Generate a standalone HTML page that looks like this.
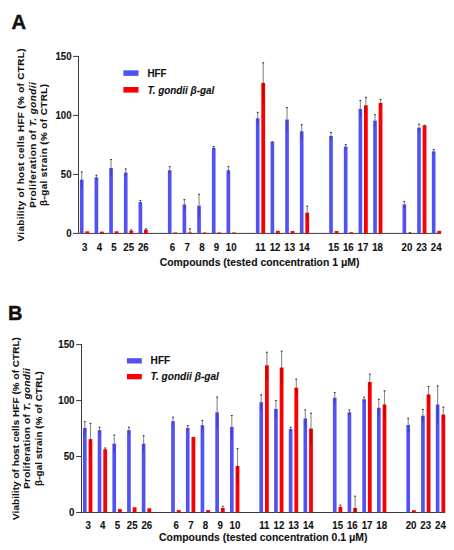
<!DOCTYPE html>
<html><head><meta charset="utf-8"><style>
html,body{margin:0;padding:0;background:#fff;}
svg{display:block;}
text{font-family:"Liberation Sans", sans-serif;fill:#111;stroke:#111;stroke-width:0.1;}
</style></head><body>
<svg width="454" height="550" viewBox="0 0 454 550">
<rect width="454" height="550" fill="#fff"/>
<text x="11.6" y="29.3" font-size="20.2" font-weight="bold" style="stroke-width:0.4">A</text>
<text transform="translate(23.9,145) rotate(-90)" text-anchor="middle" font-size="9.9" font-weight="bold" textLength="192.9" lengthAdjust="spacing">Viability of host cells HFF (% of CTRL)</text>
<text transform="translate(35.6,145) rotate(-90)" text-anchor="middle" font-size="9.9" font-weight="bold" textLength="125.6" lengthAdjust="spacing">Proliferation of <tspan font-style="italic">T. gondii</tspan></text>
<text transform="translate(46.9,145) rotate(-90)" text-anchor="middle" font-size="9.9" font-weight="bold" textLength="121.9" lengthAdjust="spacing">β-gal strain (% of CTRL)</text>
<path d="M78.5 55.900000000000006 V233.4 M73 233.4 H441.1" stroke="#3a3a3a" stroke-width="1" fill="none"/>
<path d="M73 174.40 H78.5" stroke="#3a3a3a" stroke-width="1"/>
<path d="M73 115.40 H78.5" stroke="#3a3a3a" stroke-width="1"/>
<path d="M73 56.40 H78.5" stroke="#3a3a3a" stroke-width="1"/>
<text transform="translate(71.5,237.35) scale(1,1.05)" font-size="9.6" font-weight="bold" text-anchor="end">0</text>
<text transform="translate(71.5,178.35) scale(1,1.05)" font-size="9.6" font-weight="bold" text-anchor="end">50</text>
<text transform="translate(71.5,119.35) scale(1,1.05)" font-size="9.6" font-weight="bold" text-anchor="end">100</text>
<text transform="translate(71.5,60.35) scale(1,1.05)" font-size="9.6" font-weight="bold" text-anchor="end">150</text>
<rect x="79.90" y="179.65" width="3.65" height="53.75" fill="#5252F2"/>
<path d="M81.73 171.45 V179.65" stroke="#8a8a8a" stroke-width="1.1"/>
<path d="M81.73 179.65 V187.85" stroke="#000" stroke-opacity="0.28" stroke-width="1.0"/>
<path d="M80.83 171.95 H82.63" stroke="#333" stroke-width="1"/>
<rect x="85.35" y="231.28" width="3.8" height="2.12" fill="#FA0000"/>
<text transform="translate(84.71,251.0) scale(1,1.18)" font-size="9.7" font-weight="bold" text-anchor="middle">3</text>
<rect x="94.56" y="177.29" width="3.65" height="56.11" fill="#5252F2"/>
<path d="M96.39 174.75 V177.29" stroke="#8a8a8a" stroke-width="1.1"/>
<path d="M96.39 177.29 V179.83" stroke="#000" stroke-opacity="0.28" stroke-width="1.0"/>
<path d="M95.49 175.25 H97.29" stroke="#333" stroke-width="1"/>
<rect x="100.02" y="231.63" width="3.8" height="1.77" fill="#FA0000"/>
<text transform="translate(99.35,251.0) scale(1,1.18)" font-size="9.7" font-weight="bold" text-anchor="middle">4</text>
<rect x="109.23" y="167.85" width="3.65" height="65.55" fill="#5252F2"/>
<path d="M111.06 159.06 V167.85" stroke="#8a8a8a" stroke-width="1.1"/>
<path d="M111.06 167.85 V176.64" stroke="#000" stroke-opacity="0.28" stroke-width="1.0"/>
<path d="M110.16 159.56 H111.96" stroke="#333" stroke-width="1"/>
<rect x="114.68" y="231.28" width="3.8" height="2.12" fill="#FA0000"/>
<text transform="translate(114.00,251.0) scale(1,1.18)" font-size="9.7" font-weight="bold" text-anchor="middle">5</text>
<rect x="123.90" y="172.57" width="3.65" height="60.83" fill="#5252F2"/>
<path d="M125.72 168.50 V172.57" stroke="#8a8a8a" stroke-width="1.1"/>
<path d="M125.72 172.57 V176.64" stroke="#000" stroke-opacity="0.28" stroke-width="1.0"/>
<path d="M124.82 169.00 H126.62" stroke="#333" stroke-width="1"/>
<rect x="129.34" y="230.69" width="3.8" height="2.71" fill="#FA0000"/>
<path d="M131.25 229.39 V230.69" stroke="#8a8a8a" stroke-width="1.1"/>
<path d="M131.25 230.69 V231.98" stroke="#000" stroke-opacity="0.28" stroke-width="1.0"/>
<path d="M130.34 229.89 H132.15" stroke="#333" stroke-width="1"/>
<text transform="translate(128.64,251.0) scale(1,1.18)" font-size="9.7" font-weight="bold" text-anchor="middle">25</text>
<rect x="138.56" y="202.07" width="3.65" height="31.33" fill="#5252F2"/>
<path d="M140.38 200.01 V202.07" stroke="#8a8a8a" stroke-width="1.1"/>
<path d="M140.38 202.07 V204.14" stroke="#000" stroke-opacity="0.28" stroke-width="1.0"/>
<path d="M139.48 200.51 H141.28" stroke="#333" stroke-width="1"/>
<rect x="144.01" y="229.62" width="3.8" height="3.78" fill="#FA0000"/>
<path d="M145.91 228.33 V229.62" stroke="#8a8a8a" stroke-width="1.1"/>
<path d="M145.91 229.62 V230.92" stroke="#000" stroke-opacity="0.28" stroke-width="1.0"/>
<path d="M145.01 228.83 H146.81" stroke="#333" stroke-width="1"/>
<text transform="translate(143.29,251.0) scale(1,1.18)" font-size="9.7" font-weight="bold" text-anchor="middle">26</text>
<rect x="167.89" y="170.21" width="3.65" height="63.19" fill="#5252F2"/>
<path d="M169.71 166.14 V170.21" stroke="#8a8a8a" stroke-width="1.1"/>
<path d="M169.71 170.21 V174.28" stroke="#000" stroke-opacity="0.28" stroke-width="1.0"/>
<path d="M168.81 166.64 H170.61" stroke="#333" stroke-width="1"/>
<rect x="173.34" y="232.46" width="3.8" height="0.94" fill="#FA0000"/>
<text transform="translate(172.57,251.0) scale(1,1.18)" font-size="9.7" font-weight="bold" text-anchor="middle">6</text>
<rect x="182.56" y="204.43" width="3.65" height="28.97" fill="#5252F2"/>
<path d="M184.38 199.18 V204.43" stroke="#8a8a8a" stroke-width="1.1"/>
<path d="M184.38 204.43 V209.68" stroke="#000" stroke-opacity="0.28" stroke-width="1.0"/>
<path d="M183.48 199.68 H185.28" stroke="#333" stroke-width="1"/>
<rect x="188.00" y="232.46" width="3.8" height="0.94" fill="#FA0000"/>
<path d="M189.91 228.33 V232.46" stroke="#8a8a8a" stroke-width="1.1"/>
<path d="M189.91 232.46 V233.40" stroke="#000" stroke-opacity="0.28" stroke-width="1.0"/>
<path d="M189.00 228.83 H190.81" stroke="#333" stroke-width="1"/>
<text transform="translate(187.22,251.0) scale(1,1.18)" font-size="9.7" font-weight="bold" text-anchor="middle">7</text>
<rect x="197.22" y="205.61" width="3.65" height="27.79" fill="#5252F2"/>
<path d="M199.04 193.87 V205.61" stroke="#8a8a8a" stroke-width="1.1"/>
<path d="M199.04 205.61 V217.35" stroke="#000" stroke-opacity="0.28" stroke-width="1.0"/>
<path d="M198.14 194.37 H199.94" stroke="#333" stroke-width="1"/>
<rect x="202.67" y="232.46" width="3.8" height="0.94" fill="#FA0000"/>
<text transform="translate(201.86,251.0) scale(1,1.18)" font-size="9.7" font-weight="bold" text-anchor="middle">8</text>
<rect x="211.88" y="147.79" width="3.65" height="85.61" fill="#5252F2"/>
<path d="M213.71 146.08 V147.79" stroke="#8a8a8a" stroke-width="1.1"/>
<path d="M213.71 147.79 V149.50" stroke="#000" stroke-opacity="0.28" stroke-width="1.0"/>
<path d="M212.81 146.58 H214.61" stroke="#333" stroke-width="1"/>
<rect x="217.33" y="232.46" width="3.8" height="0.94" fill="#FA0000"/>
<text transform="translate(216.51,251.0) scale(1,1.18)" font-size="9.7" font-weight="bold" text-anchor="middle">9</text>
<rect x="226.55" y="170.21" width="3.65" height="63.19" fill="#5252F2"/>
<path d="M228.37 166.14 V170.21" stroke="#8a8a8a" stroke-width="1.1"/>
<path d="M228.37 170.21 V174.28" stroke="#000" stroke-opacity="0.28" stroke-width="1.0"/>
<path d="M227.47 166.64 H229.27" stroke="#333" stroke-width="1"/>
<rect x="232.00" y="232.46" width="3.8" height="0.94" fill="#FA0000"/>
<text transform="translate(231.15,251.0) scale(1,1.18)" font-size="9.7" font-weight="bold" text-anchor="middle">10</text>
<rect x="255.88" y="118.29" width="3.65" height="115.11" fill="#5252F2"/>
<path d="M257.70 111.86 V118.29" stroke="#8a8a8a" stroke-width="1.1"/>
<path d="M257.70 118.29 V124.72" stroke="#000" stroke-opacity="0.28" stroke-width="1.0"/>
<path d="M256.81 112.36 H258.60" stroke="#333" stroke-width="1"/>
<rect x="261.33" y="82.89" width="3.8" height="150.51" fill="#FA0000"/>
<path d="M263.23 62.30 V82.89" stroke="#8a8a8a" stroke-width="1.1"/>
<path d="M263.23 82.89 V103.48" stroke="#000" stroke-opacity="0.28" stroke-width="1.0"/>
<path d="M262.33 62.80 H264.13" stroke="#333" stroke-width="1"/>
<text transform="translate(260.44,251.0) scale(1,1.18)" font-size="9.7" font-weight="bold" text-anchor="middle">11</text>
<rect x="270.54" y="141.89" width="3.65" height="91.51" fill="#5252F2"/>
<path d="M272.37 141.36 V141.89" stroke="#8a8a8a" stroke-width="1.1"/>
<path d="M272.37 141.89 V142.42" stroke="#000" stroke-opacity="0.28" stroke-width="1.0"/>
<path d="M271.47 141.86 H273.27" stroke="#333" stroke-width="1"/>
<rect x="275.99" y="230.80" width="3.8" height="2.60" fill="#FA0000"/>
<text transform="translate(275.08,251.0) scale(1,1.18)" font-size="9.7" font-weight="bold" text-anchor="middle">12</text>
<rect x="285.21" y="119.47" width="3.65" height="113.93" fill="#5252F2"/>
<path d="M287.04 107.14 V119.47" stroke="#8a8a8a" stroke-width="1.1"/>
<path d="M287.04 119.47 V131.80" stroke="#000" stroke-opacity="0.28" stroke-width="1.0"/>
<path d="M286.14 107.64 H287.94" stroke="#333" stroke-width="1"/>
<rect x="290.66" y="231.04" width="3.8" height="2.36" fill="#FA0000"/>
<text transform="translate(289.73,251.0) scale(1,1.18)" font-size="9.7" font-weight="bold" text-anchor="middle">13</text>
<rect x="299.88" y="131.27" width="3.65" height="102.13" fill="#5252F2"/>
<path d="M301.70 124.25 V131.27" stroke="#8a8a8a" stroke-width="1.1"/>
<path d="M301.70 131.27 V138.29" stroke="#000" stroke-opacity="0.28" stroke-width="1.0"/>
<path d="M300.80 124.75 H302.60" stroke="#333" stroke-width="1"/>
<rect x="305.32" y="212.69" width="3.8" height="20.71" fill="#FA0000"/>
<path d="M307.22 205.67 V212.69" stroke="#8a8a8a" stroke-width="1.1"/>
<path d="M307.22 212.69 V219.71" stroke="#000" stroke-opacity="0.28" stroke-width="1.0"/>
<path d="M306.32 206.17 H308.12" stroke="#333" stroke-width="1"/>
<text transform="translate(304.37,251.0) scale(1,1.18)" font-size="9.7" font-weight="bold" text-anchor="middle">14</text>
<rect x="329.20" y="135.99" width="3.65" height="97.41" fill="#5252F2"/>
<path d="M331.03 131.92 V135.99" stroke="#8a8a8a" stroke-width="1.1"/>
<path d="M331.03 135.99 V140.06" stroke="#000" stroke-opacity="0.28" stroke-width="1.0"/>
<path d="M330.13 132.42 H331.93" stroke="#333" stroke-width="1"/>
<rect x="334.65" y="231.04" width="3.8" height="2.36" fill="#FA0000"/>
<text transform="translate(333.66,251.0) scale(1,1.18)" font-size="9.7" font-weight="bold" text-anchor="middle">15</text>
<rect x="343.87" y="146.61" width="3.65" height="86.79" fill="#5252F2"/>
<path d="M345.69 144.07 V146.61" stroke="#8a8a8a" stroke-width="1.1"/>
<path d="M345.69 146.61 V149.15" stroke="#000" stroke-opacity="0.28" stroke-width="1.0"/>
<path d="M344.80 144.57 H346.59" stroke="#333" stroke-width="1"/>
<rect x="349.32" y="232.22" width="3.8" height="1.18" fill="#FA0000"/>
<text transform="translate(348.30,251.0) scale(1,1.18)" font-size="9.7" font-weight="bold" text-anchor="middle">16</text>
<rect x="358.53" y="108.85" width="3.65" height="124.55" fill="#5252F2"/>
<path d="M360.36 100.06 V108.85" stroke="#8a8a8a" stroke-width="1.1"/>
<path d="M360.36 108.85 V117.64" stroke="#000" stroke-opacity="0.28" stroke-width="1.0"/>
<path d="M359.46 100.56 H361.26" stroke="#333" stroke-width="1"/>
<rect x="363.98" y="105.31" width="3.8" height="128.09" fill="#FA0000"/>
<path d="M365.88 96.87 V105.31" stroke="#8a8a8a" stroke-width="1.1"/>
<path d="M365.88 105.31 V113.75" stroke="#000" stroke-opacity="0.28" stroke-width="1.0"/>
<path d="M364.98 97.37 H366.78" stroke="#333" stroke-width="1"/>
<text transform="translate(362.95,251.0) scale(1,1.18)" font-size="9.7" font-weight="bold" text-anchor="middle">17</text>
<rect x="373.20" y="120.65" width="3.65" height="112.75" fill="#5252F2"/>
<path d="M375.02 114.22 V120.65" stroke="#8a8a8a" stroke-width="1.1"/>
<path d="M375.02 120.65 V127.08" stroke="#000" stroke-opacity="0.28" stroke-width="1.0"/>
<path d="M374.12 114.72 H375.92" stroke="#333" stroke-width="1"/>
<rect x="378.65" y="102.95" width="3.8" height="130.45" fill="#FA0000"/>
<path d="M380.55 98.88 V102.95" stroke="#8a8a8a" stroke-width="1.1"/>
<path d="M380.55 102.95 V107.02" stroke="#000" stroke-opacity="0.28" stroke-width="1.0"/>
<path d="M379.65 99.38 H381.45" stroke="#333" stroke-width="1"/>
<text transform="translate(377.59,251.0) scale(1,1.18)" font-size="9.7" font-weight="bold" text-anchor="middle">18</text>
<rect x="402.53" y="204.43" width="3.65" height="28.97" fill="#5252F2"/>
<path d="M404.35 200.95 V204.43" stroke="#8a8a8a" stroke-width="1.1"/>
<path d="M404.35 204.43 V207.91" stroke="#000" stroke-opacity="0.28" stroke-width="1.0"/>
<path d="M403.45 201.45 H405.25" stroke="#333" stroke-width="1"/>
<rect x="407.98" y="232.81" width="3.8" height="0.59" fill="#FA0000"/>
<path d="M409.88 232.22 V232.81" stroke="#8a8a8a" stroke-width="1.1"/>
<path d="M409.88 232.81 V233.40" stroke="#000" stroke-opacity="0.28" stroke-width="1.0"/>
<path d="M408.98 232.72 H410.78" stroke="#333" stroke-width="1"/>
<text transform="translate(406.88,251.0) scale(1,1.18)" font-size="9.7" font-weight="bold" text-anchor="middle">20</text>
<rect x="417.19" y="127.73" width="3.65" height="105.67" fill="#5252F2"/>
<path d="M419.02 123.66 V127.73" stroke="#8a8a8a" stroke-width="1.1"/>
<path d="M419.02 127.73 V131.80" stroke="#000" stroke-opacity="0.28" stroke-width="1.0"/>
<path d="M418.12 124.16 H419.92" stroke="#333" stroke-width="1"/>
<rect x="422.64" y="125.37" width="3.8" height="108.03" fill="#FA0000"/>
<path d="M424.54 124.84 V125.37" stroke="#8a8a8a" stroke-width="1.1"/>
<path d="M424.54 125.37 V125.90" stroke="#000" stroke-opacity="0.28" stroke-width="1.0"/>
<path d="M423.64 125.34 H425.44" stroke="#333" stroke-width="1"/>
<text transform="translate(421.52,251.0) scale(1,1.18)" font-size="9.7" font-weight="bold" text-anchor="middle">23</text>
<rect x="431.86" y="151.33" width="3.65" height="82.07" fill="#5252F2"/>
<path d="M433.69 149.03 V151.33" stroke="#8a8a8a" stroke-width="1.1"/>
<path d="M433.69 151.33 V153.63" stroke="#000" stroke-opacity="0.28" stroke-width="1.0"/>
<path d="M432.79 149.53 H434.58" stroke="#333" stroke-width="1"/>
<rect x="437.31" y="230.80" width="3.8" height="2.60" fill="#FA0000"/>
<text transform="translate(436.17,251.0) scale(1,1.18)" font-size="9.7" font-weight="bold" text-anchor="middle">24</text>
<text x="159.7" y="265.9" font-size="10.42" font-weight="bold" textLength="199.7" lengthAdjust="spacing">Compounds (tested concentration 1 μM)</text>
<rect x="123.4" y="70.3" width="15.1" height="5.6" fill="#5252F2"/>
<rect x="123.4" y="87.0" width="15.1" height="5.6" fill="#FA0000"/>
<text transform="translate(147.4,76.5) scale(1,1.03)" font-size="9.9" font-weight="bold">HFF</text>
<text transform="translate(147.4,93.7) scale(1,1.03)" font-size="9.9" font-weight="bold" font-style="italic">T. gondii β-gal</text>
<text x="7.9" y="319.7" font-size="20" font-weight="bold" style="stroke-width:0.4">B</text>
<text transform="translate(18.9,428.5) rotate(-90)" text-anchor="middle" font-size="9.9" font-weight="bold" textLength="182.8" lengthAdjust="spacing">Viability of host cells HFF (% of CTRL)</text>
<text transform="translate(30.3,428.5) rotate(-90)" text-anchor="middle" font-size="9.9" font-weight="bold" textLength="120.7" lengthAdjust="spacing">Proliferation of <tspan font-style="italic">T. gondii</tspan></text>
<text transform="translate(42.2,428.5) rotate(-90)" text-anchor="middle" font-size="9.9" font-weight="bold" textLength="114.8" lengthAdjust="spacing">β-gal strain (% of CTRL)</text>
<path d="M81.5 344.105 V512.5 M76.2 512.5 H445.1" stroke="#3a3a3a" stroke-width="1" fill="none"/>
<path d="M76.2 456.54 H81.5" stroke="#3a3a3a" stroke-width="1"/>
<path d="M76.2 400.57 H81.5" stroke="#3a3a3a" stroke-width="1"/>
<path d="M76.2 344.61 H81.5" stroke="#3a3a3a" stroke-width="1"/>
<text transform="translate(74.5,516.10) scale(1,1.05)" font-size="9.7" font-weight="bold" text-anchor="end">0</text>
<text transform="translate(74.5,460.14) scale(1,1.05)" font-size="9.7" font-weight="bold" text-anchor="end">50</text>
<text transform="translate(74.5,404.17) scale(1,1.05)" font-size="9.7" font-weight="bold" text-anchor="end">100</text>
<text transform="translate(74.5,348.21) scale(1,1.05)" font-size="9.7" font-weight="bold" text-anchor="end">150</text>
<rect x="83.00" y="427.94" width="3.65" height="84.56" fill="#5252F2"/>
<path d="M84.83 421.22 V427.94" stroke="#8a8a8a" stroke-width="1.1"/>
<path d="M84.83 427.94 V434.65" stroke="#000" stroke-opacity="0.28" stroke-width="1.0"/>
<path d="M83.92 421.72 H85.73" stroke="#333" stroke-width="1"/>
<rect x="88.60" y="439.13" width="3.8" height="73.37" fill="#FA0000"/>
<path d="M90.50 422.90 V439.13" stroke="#8a8a8a" stroke-width="1.1"/>
<path d="M90.50 439.13 V455.36" stroke="#000" stroke-opacity="0.28" stroke-width="1.0"/>
<path d="M89.60 423.40 H91.40" stroke="#333" stroke-width="1"/>
<text transform="translate(88.10,528.9) scale(1,1.12)" font-size="9.7" font-weight="bold" text-anchor="middle">3</text>
<rect x="97.70" y="430.18" width="3.65" height="82.32" fill="#5252F2"/>
<path d="M99.53 426.82 V430.18" stroke="#8a8a8a" stroke-width="1.1"/>
<path d="M99.53 430.18 V433.53" stroke="#000" stroke-opacity="0.28" stroke-width="1.0"/>
<path d="M98.62 427.32 H100.43" stroke="#333" stroke-width="1"/>
<rect x="103.30" y="449.20" width="3.8" height="63.30" fill="#FA0000"/>
<path d="M105.20 447.52 V449.20" stroke="#8a8a8a" stroke-width="1.1"/>
<path d="M105.20 449.20 V450.88" stroke="#000" stroke-opacity="0.28" stroke-width="1.0"/>
<path d="M104.30 448.02 H106.10" stroke="#333" stroke-width="1"/>
<text transform="translate(102.78,528.9) scale(1,1.12)" font-size="9.7" font-weight="bold" text-anchor="middle">4</text>
<rect x="112.40" y="443.61" width="3.65" height="68.89" fill="#5252F2"/>
<path d="M114.23 434.65 V443.61" stroke="#8a8a8a" stroke-width="1.1"/>
<path d="M114.23 443.61 V452.56" stroke="#000" stroke-opacity="0.28" stroke-width="1.0"/>
<path d="M113.33 435.15 H115.13" stroke="#333" stroke-width="1"/>
<rect x="118.00" y="509.03" width="3.8" height="3.47" fill="#FA0000"/>
<text transform="translate(117.46,528.9) scale(1,1.12)" font-size="9.7" font-weight="bold" text-anchor="middle">5</text>
<rect x="127.10" y="430.18" width="3.65" height="82.32" fill="#5252F2"/>
<path d="M128.92 426.82 V430.18" stroke="#8a8a8a" stroke-width="1.1"/>
<path d="M128.92 430.18 V433.53" stroke="#000" stroke-opacity="0.28" stroke-width="1.0"/>
<path d="M128.02 427.32 H129.82" stroke="#333" stroke-width="1"/>
<rect x="132.70" y="507.24" width="3.8" height="5.26" fill="#FA0000"/>
<text transform="translate(132.14,528.9) scale(1,1.12)" font-size="9.7" font-weight="bold" text-anchor="middle">25</text>
<rect x="141.80" y="443.61" width="3.65" height="68.89" fill="#5252F2"/>
<path d="M143.62 435.21 V443.61" stroke="#8a8a8a" stroke-width="1.1"/>
<path d="M143.62 443.61 V452.00" stroke="#000" stroke-opacity="0.28" stroke-width="1.0"/>
<path d="M142.72 435.71 H144.53" stroke="#333" stroke-width="1"/>
<rect x="147.40" y="508.25" width="3.8" height="4.25" fill="#FA0000"/>
<text transform="translate(146.82,528.9) scale(1,1.12)" font-size="9.7" font-weight="bold" text-anchor="middle">26</text>
<rect x="171.20" y="421.22" width="3.65" height="91.28" fill="#5252F2"/>
<path d="M173.02 416.74 V421.22" stroke="#8a8a8a" stroke-width="1.1"/>
<path d="M173.02 421.22 V425.70" stroke="#000" stroke-opacity="0.28" stroke-width="1.0"/>
<path d="M172.12 417.24 H173.92" stroke="#333" stroke-width="1"/>
<rect x="176.80" y="510.04" width="3.8" height="2.46" fill="#FA0000"/>
<text transform="translate(176.18,528.9) scale(1,1.12)" font-size="9.7" font-weight="bold" text-anchor="middle">6</text>
<rect x="185.90" y="427.94" width="3.65" height="84.56" fill="#5252F2"/>
<path d="M187.72 425.14 V427.94" stroke="#8a8a8a" stroke-width="1.1"/>
<path d="M187.72 427.94 V430.74" stroke="#000" stroke-opacity="0.28" stroke-width="1.0"/>
<path d="M186.82 425.64 H188.62" stroke="#333" stroke-width="1"/>
<rect x="191.50" y="436.89" width="3.8" height="75.61" fill="#FA0000"/>
<text transform="translate(190.86,528.9) scale(1,1.12)" font-size="9.7" font-weight="bold" text-anchor="middle">7</text>
<rect x="200.60" y="425.14" width="3.65" height="87.36" fill="#5252F2"/>
<path d="M202.42 419.88 V425.14" stroke="#8a8a8a" stroke-width="1.1"/>
<path d="M202.42 425.14 V430.40" stroke="#000" stroke-opacity="0.28" stroke-width="1.0"/>
<path d="M201.52 420.38 H203.32" stroke="#333" stroke-width="1"/>
<rect x="206.20" y="510.04" width="3.8" height="2.46" fill="#FA0000"/>
<text transform="translate(205.54,528.9) scale(1,1.12)" font-size="9.7" font-weight="bold" text-anchor="middle">8</text>
<rect x="215.30" y="412.27" width="3.65" height="100.23" fill="#5252F2"/>
<path d="M217.12 396.60 V412.27" stroke="#8a8a8a" stroke-width="1.1"/>
<path d="M217.12 412.27 V427.94" stroke="#000" stroke-opacity="0.28" stroke-width="1.0"/>
<path d="M216.22 397.10 H218.02" stroke="#333" stroke-width="1"/>
<rect x="220.90" y="508.02" width="3.8" height="4.48" fill="#FA0000"/>
<path d="M222.80 505.78 V508.02" stroke="#8a8a8a" stroke-width="1.1"/>
<path d="M222.80 508.02 V510.26" stroke="#000" stroke-opacity="0.28" stroke-width="1.0"/>
<path d="M221.90 506.28 H223.70" stroke="#333" stroke-width="1"/>
<text transform="translate(220.22,528.9) scale(1,1.12)" font-size="9.7" font-weight="bold" text-anchor="middle">9</text>
<rect x="230.00" y="426.82" width="3.65" height="85.68" fill="#5252F2"/>
<path d="M231.82 415.06 V426.82" stroke="#8a8a8a" stroke-width="1.1"/>
<path d="M231.82 426.82 V438.57" stroke="#000" stroke-opacity="0.28" stroke-width="1.0"/>
<path d="M230.92 415.56 H232.72" stroke="#333" stroke-width="1"/>
<rect x="235.60" y="465.99" width="3.8" height="46.51" fill="#FA0000"/>
<path d="M237.50 448.08 V465.99" stroke="#8a8a8a" stroke-width="1.1"/>
<path d="M237.50 465.99 V483.90" stroke="#000" stroke-opacity="0.28" stroke-width="1.0"/>
<path d="M236.60 448.58 H238.40" stroke="#333" stroke-width="1"/>
<text transform="translate(234.90,528.9) scale(1,1.12)" font-size="9.7" font-weight="bold" text-anchor="middle">10</text>
<rect x="259.40" y="402.19" width="3.65" height="110.31" fill="#5252F2"/>
<path d="M261.22 394.36 V402.19" stroke="#8a8a8a" stroke-width="1.1"/>
<path d="M261.22 402.19 V410.03" stroke="#000" stroke-opacity="0.28" stroke-width="1.0"/>
<path d="M260.32 394.86 H262.12" stroke="#333" stroke-width="1"/>
<rect x="265.00" y="365.26" width="3.8" height="147.24" fill="#FA0000"/>
<path d="M266.90 351.82 V365.26" stroke="#8a8a8a" stroke-width="1.1"/>
<path d="M266.90 365.26 V378.69" stroke="#000" stroke-opacity="0.28" stroke-width="1.0"/>
<path d="M266.00 352.32 H267.80" stroke="#333" stroke-width="1"/>
<text transform="translate(264.26,528.9) scale(1,1.12)" font-size="9.7" font-weight="bold" text-anchor="middle">11</text>
<rect x="274.10" y="408.91" width="3.65" height="103.59" fill="#5252F2"/>
<path d="M275.93 399.95 V408.91" stroke="#8a8a8a" stroke-width="1.1"/>
<path d="M275.93 408.91 V417.86" stroke="#000" stroke-opacity="0.28" stroke-width="1.0"/>
<path d="M275.03 400.45 H276.82" stroke="#333" stroke-width="1"/>
<rect x="279.70" y="367.49" width="3.8" height="145.01" fill="#FA0000"/>
<path d="M281.60 350.71 V367.49" stroke="#8a8a8a" stroke-width="1.1"/>
<path d="M281.60 367.49 V384.28" stroke="#000" stroke-opacity="0.28" stroke-width="1.0"/>
<path d="M280.70 351.21 H282.50" stroke="#333" stroke-width="1"/>
<text transform="translate(278.94,528.9) scale(1,1.12)" font-size="9.7" font-weight="bold" text-anchor="middle">12</text>
<rect x="288.80" y="429.06" width="3.65" height="83.44" fill="#5252F2"/>
<path d="M290.62 426.82 V429.06" stroke="#8a8a8a" stroke-width="1.1"/>
<path d="M290.62 429.06 V431.29" stroke="#000" stroke-opacity="0.28" stroke-width="1.0"/>
<path d="M289.72 427.32 H291.52" stroke="#333" stroke-width="1"/>
<rect x="294.40" y="387.64" width="3.8" height="124.86" fill="#FA0000"/>
<path d="M296.30 378.69 V387.64" stroke="#8a8a8a" stroke-width="1.1"/>
<path d="M296.30 387.64 V396.60" stroke="#000" stroke-opacity="0.28" stroke-width="1.0"/>
<path d="M295.40 379.19 H297.20" stroke="#333" stroke-width="1"/>
<text transform="translate(293.62,528.9) scale(1,1.12)" font-size="9.7" font-weight="bold" text-anchor="middle">13</text>
<rect x="303.50" y="418.42" width="3.65" height="94.08" fill="#5252F2"/>
<path d="M305.32 409.47 V418.42" stroke="#8a8a8a" stroke-width="1.1"/>
<path d="M305.32 418.42 V427.38" stroke="#000" stroke-opacity="0.28" stroke-width="1.0"/>
<path d="M304.43 409.97 H306.22" stroke="#333" stroke-width="1"/>
<rect x="309.10" y="428.50" width="3.8" height="84.00" fill="#FA0000"/>
<path d="M311.00 412.83 V428.50" stroke="#8a8a8a" stroke-width="1.1"/>
<path d="M311.00 428.50 V444.17" stroke="#000" stroke-opacity="0.28" stroke-width="1.0"/>
<path d="M310.10 413.33 H311.90" stroke="#333" stroke-width="1"/>
<text transform="translate(308.30,528.9) scale(1,1.12)" font-size="9.7" font-weight="bold" text-anchor="middle">14</text>
<rect x="332.90" y="397.72" width="3.65" height="114.78" fill="#5252F2"/>
<path d="M334.72 392.12 V397.72" stroke="#8a8a8a" stroke-width="1.1"/>
<path d="M334.72 397.72 V403.31" stroke="#000" stroke-opacity="0.28" stroke-width="1.0"/>
<path d="M333.82 392.62 H335.62" stroke="#333" stroke-width="1"/>
<rect x="338.50" y="506.90" width="3.8" height="5.60" fill="#FA0000"/>
<path d="M340.40 504.66 V506.90" stroke="#8a8a8a" stroke-width="1.1"/>
<path d="M340.40 506.90 V509.14" stroke="#000" stroke-opacity="0.28" stroke-width="1.0"/>
<path d="M339.50 505.16 H341.30" stroke="#333" stroke-width="1"/>
<text transform="translate(337.66,528.9) scale(1,1.12)" font-size="9.7" font-weight="bold" text-anchor="middle">15</text>
<rect x="347.60" y="412.27" width="3.65" height="100.23" fill="#5252F2"/>
<path d="M349.42 409.47 V412.27" stroke="#8a8a8a" stroke-width="1.1"/>
<path d="M349.42 412.27 V415.06" stroke="#000" stroke-opacity="0.28" stroke-width="1.0"/>
<path d="M348.52 409.97 H350.32" stroke="#333" stroke-width="1"/>
<rect x="353.20" y="508.02" width="3.8" height="4.48" fill="#FA0000"/>
<path d="M355.10 495.71 V508.02" stroke="#8a8a8a" stroke-width="1.1"/>
<path d="M355.10 508.02 V512.50" stroke="#000" stroke-opacity="0.28" stroke-width="1.0"/>
<path d="M354.20 496.21 H356.00" stroke="#333" stroke-width="1"/>
<text transform="translate(352.34,528.9) scale(1,1.12)" font-size="9.7" font-weight="bold" text-anchor="middle">16</text>
<rect x="362.30" y="399.28" width="3.65" height="113.22" fill="#5252F2"/>
<path d="M364.12 396.71 V399.28" stroke="#8a8a8a" stroke-width="1.1"/>
<path d="M364.12 399.28 V401.86" stroke="#000" stroke-opacity="0.28" stroke-width="1.0"/>
<path d="M363.23 397.21 H365.02" stroke="#333" stroke-width="1"/>
<rect x="367.90" y="382.05" width="3.8" height="130.45" fill="#FA0000"/>
<path d="M369.80 373.65 V382.05" stroke="#8a8a8a" stroke-width="1.1"/>
<path d="M369.80 382.05 V390.44" stroke="#000" stroke-opacity="0.28" stroke-width="1.0"/>
<path d="M368.90 374.15 H370.70" stroke="#333" stroke-width="1"/>
<text transform="translate(367.02,528.9) scale(1,1.12)" font-size="9.7" font-weight="bold" text-anchor="middle">17</text>
<rect x="377.00" y="407.79" width="3.65" height="104.71" fill="#5252F2"/>
<path d="M378.82 398.84 V407.79" stroke="#8a8a8a" stroke-width="1.1"/>
<path d="M378.82 407.79 V416.74" stroke="#000" stroke-opacity="0.28" stroke-width="1.0"/>
<path d="M377.93 399.34 H379.72" stroke="#333" stroke-width="1"/>
<rect x="382.60" y="404.43" width="3.8" height="108.07" fill="#FA0000"/>
<path d="M384.50 390.33 V404.43" stroke="#8a8a8a" stroke-width="1.1"/>
<path d="M384.50 404.43 V418.53" stroke="#000" stroke-opacity="0.28" stroke-width="1.0"/>
<path d="M383.60 390.83 H385.40" stroke="#333" stroke-width="1"/>
<text transform="translate(381.70,528.9) scale(1,1.12)" font-size="9.7" font-weight="bold" text-anchor="middle">18</text>
<rect x="406.40" y="425.03" width="3.65" height="87.47" fill="#5252F2"/>
<path d="M408.22 417.86 V425.03" stroke="#8a8a8a" stroke-width="1.1"/>
<path d="M408.22 425.03 V432.19" stroke="#000" stroke-opacity="0.28" stroke-width="1.0"/>
<path d="M407.32 418.36 H409.12" stroke="#333" stroke-width="1"/>
<rect x="412.00" y="510.26" width="3.8" height="2.24" fill="#FA0000"/>
<text transform="translate(411.06,528.9) scale(1,1.12)" font-size="9.7" font-weight="bold" text-anchor="middle">20</text>
<rect x="421.10" y="415.62" width="3.65" height="96.88" fill="#5252F2"/>
<path d="M422.92 408.91 V415.62" stroke="#8a8a8a" stroke-width="1.1"/>
<path d="M422.92 415.62 V422.34" stroke="#000" stroke-opacity="0.28" stroke-width="1.0"/>
<path d="M422.02 409.41 H423.82" stroke="#333" stroke-width="1"/>
<rect x="426.70" y="394.36" width="3.8" height="118.14" fill="#FA0000"/>
<path d="M428.60 385.96 V394.36" stroke="#8a8a8a" stroke-width="1.1"/>
<path d="M428.60 394.36 V402.75" stroke="#000" stroke-opacity="0.28" stroke-width="1.0"/>
<path d="M427.70 386.46 H429.50" stroke="#333" stroke-width="1"/>
<text transform="translate(425.74,528.9) scale(1,1.12)" font-size="9.7" font-weight="bold" text-anchor="middle">23</text>
<rect x="435.80" y="404.43" width="3.65" height="108.07" fill="#5252F2"/>
<path d="M437.62 385.40 V404.43" stroke="#8a8a8a" stroke-width="1.1"/>
<path d="M437.62 404.43 V423.46" stroke="#000" stroke-opacity="0.28" stroke-width="1.0"/>
<path d="M436.72 385.90 H438.52" stroke="#333" stroke-width="1"/>
<rect x="441.40" y="414.51" width="3.8" height="97.99" fill="#FA0000"/>
<path d="M443.30 406.67 V414.51" stroke="#8a8a8a" stroke-width="1.1"/>
<path d="M443.30 414.51 V422.34" stroke="#000" stroke-opacity="0.28" stroke-width="1.0"/>
<path d="M442.40 407.17 H444.20" stroke="#333" stroke-width="1"/>
<text transform="translate(440.42,528.9) scale(1,1.12)" font-size="9.7" font-weight="bold" text-anchor="middle">24</text>
<text x="159.1" y="541.2" font-size="10.42" font-weight="bold" textLength="208.4" lengthAdjust="spacing">Compounds (tested concentration 0.1 μM)</text>
<rect x="126.9" y="358.2" width="14.9" height="5.3" fill="#5252F2"/>
<rect x="126.9" y="374.0" width="14.9" height="5.3" fill="#FA0000"/>
<text transform="translate(150.6,363.8) scale(1,1.0)" font-size="10.1" font-weight="bold">HFF</text>
<text transform="translate(150.6,380.0) scale(1,1.0)" font-size="10.1" font-weight="bold" font-style="italic">T. gondii β-gal</text>
</svg>
</body></html>
